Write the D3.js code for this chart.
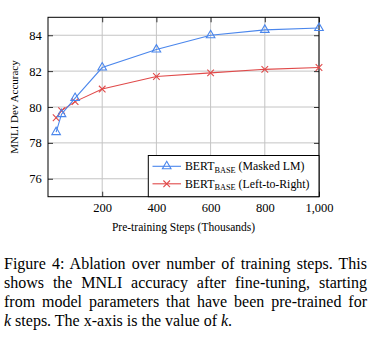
<!DOCTYPE html>
<html lang="en">
<meta charset="utf-8">
<head>
    <script src='https://d3js.org/d3.v7.min.js'></script>
    <style>
        body { margin: 0; background: #fff; }
        #chart { position: absolute; left: 0; top: 0; }
        #chart text { font-family: 'Liberation Serif', 'Times New Roman', serif; }
        #caption { position: absolute; left: 4px; top: 254px; width: 363px;
            font-family: 'Liberation Serif', 'Times New Roman', serif; font-size: 16px;
            line-height: 19px; color: #000; }
        #caption div { text-align: justify; text-align-last: justify; white-space: nowrap; }
        #caption div.last { text-align-last: left; }
    </style>
</head>
<body>
<div id="chart"></div>
<div id="caption"></div>
</body>

<script>
    var width = 375, height = 240;
    // data
    var steps = [30, 50, 100, 200, 400, 600, 800, 1000];
    var maskedLM = [78.6, 79.6, 80.5, 82.2, 83.2, 84.0, 84.3, 84.4];
    var leftToRight = [79.4, 79.8, 80.3, 81.0, 81.7, 81.9, 82.1, 82.2];
    var xTicks = [200, 400, 600, 800, 1000];
    var yTicks = [76, 78, 80, 82, 84];
    var captionLines = [
        'Figure 4: Ablation over number of training steps. This',
        'shows the MNLI accuracy after fine-tuning, starting',
        'from model parameters that have been pre-trained for',
        '<i>k</i> steps. The x-axis is the value of <i>k</i>.'
    ];

    var blue = '#4a86ec', red = '#e04a4a';
    var pL = 48, pR = 319, pT = 17.3, pB = 196.7;

    var svg = d3.select('#chart').append('svg').attr('width', width).attr('height', height);

    var x = d3.scaleLinear().domain([0, 1000]).range([pL, pR]);
    var y = d3.scaleLinear().domain([75, 85]).range([pB, pT]);

    // grid
    svg.append('g').selectAll('line').data(xTicks).join('line')
        .attr('x1', d => x(d)).attr('x2', d => x(d)).attr('y1', pT).attr('y2', pB)
        .attr('stroke', '#c4c4c4').attr('stroke-width', 1);
    svg.append('g').selectAll('line').data(yTicks).join('line')
        .attr('x1', pL).attr('x2', pR).attr('y1', d => y(d)).attr('y2', d => y(d))
        .attr('stroke', '#c4c4c4').attr('stroke-width', 1);

    // axes (ticks inside on all sides)
    var tl = 5;
    svg.append('g').attr('transform', 'translate(0,' + pB + ')')
        .call(d3.axisBottom(x).tickValues(xTicks).tickSizeInner(-tl).tickSizeOuter(0)
            .tickPadding(6.3).tickFormat(d3.format(',')));
    svg.append('g').attr('transform', 'translate(0,' + pT + ')')
        .call(d3.axisTop(x).tickValues(xTicks).tickSizeInner(-tl).tickSizeOuter(0).tickFormat(''));
    svg.append('g').attr('transform', 'translate(' + pL + ',0)')
        .call(d3.axisLeft(y).tickValues(yTicks).tickSizeInner(-tl).tickSizeOuter(0).tickPadding(6.3));
    svg.append('g').attr('transform', 'translate(' + pR + ',0)')
        .call(d3.axisRight(y).tickValues(yTicks).tickSizeInner(-tl).tickSizeOuter(0).tickFormat(''));
    svg.selectAll('.domain').remove();
    svg.selectAll('.tick line').attr('stroke', '#333');
    svg.selectAll('.tick text').attr('font-size', 12.5).attr('fill', '#000');

    svg.append('rect').attr('x', pL).attr('y', pT).attr('width', pR - pL).attr('height', pB - pT)
        .attr('fill', 'none').attr('stroke', '#000').attr('stroke-width', 1);

    // axis labels
    svg.append('text').attr('x', (pL + pR) / 2).attr('y', 230.5).attr('text-anchor', 'middle')
        .attr('font-size', 11.5).text('Pre-training Steps (Thousands)');
    svg.append('text').attr('transform', 'translate(18,' + (pT + pB) / 2 + ') rotate(-90)')
        .attr('text-anchor', 'middle').attr('font-size', 11).text('MNLI Dev Accuracy');

    var line = d3.line().x(d => x(d[0])).y(d => y(d[1]));
    var tri = d3.symbol().type(d3.symbolTriangle).size(32);
    var cross = 'M-3.3,-3.3L3.3,3.3M-3.3,3.3L3.3,-3.3';

    var series = [
        {name: '(Masked LM)', values: maskedLM, color: blue, mark: tri()},
        {name: '(Left-to-Right)', values: leftToRight, color: red, mark: cross}
    ];

    series.slice().reverse().forEach(function(s) {
        var pts = steps.map((d, i) => [d, s.values[i]]);
        svg.append('path').attr('d', line(pts)).attr('fill', 'none')
            .attr('stroke', s.color).attr('stroke-width', 1.1);
        svg.append('g').selectAll('path').data(pts).join('path')
            .attr('transform', d => 'translate(' + x(d[0]) + ',' + y(d[1]) + ')')
            .attr('d', s.mark).attr('fill', 'none').attr('stroke', s.color).attr('stroke-width', 1.1);
    });

    // legend
    var lg = svg.append('g');
    lg.append('rect').attr('x', 148.3).attr('y', 155.5).attr('width', pR - 148.3).attr('height', pB - 155.5)
        .attr('fill', '#fff').attr('stroke', '#000').attr('stroke-width', 1);
    series.forEach(function(s, i) {
        var ly = 166.3 + i * 17.5;
        lg.append('line').attr('x1', 152.5).attr('x2', 181).attr('y1', ly).attr('y2', ly)
            .attr('stroke', s.color).attr('stroke-width', 1.1);
        lg.append('path').attr('transform', 'translate(166.7,' + ly + ')').attr('d', s.mark)
            .attr('fill', 'none').attr('stroke', s.color).attr('stroke-width', 1.1);
        var t = lg.append('text').attr('x', 185).attr('y', ly + 4).attr('font-size', 11.8);
        t.append('tspan').text('BERT');
        t.append('tspan').attr('font-size', 8.3).attr('dy', 2.5).text('BASE');
        t.append('tspan').attr('dy', -2.5).text(' ' + s.name);
    });

    // caption
    d3.select('#caption').selectAll('div').data(captionLines).join('div')
        .classed('last', (d, i) => i === captionLines.length - 1)
        .html(d => d);
    console.log('ready..');
</script>
</html>
